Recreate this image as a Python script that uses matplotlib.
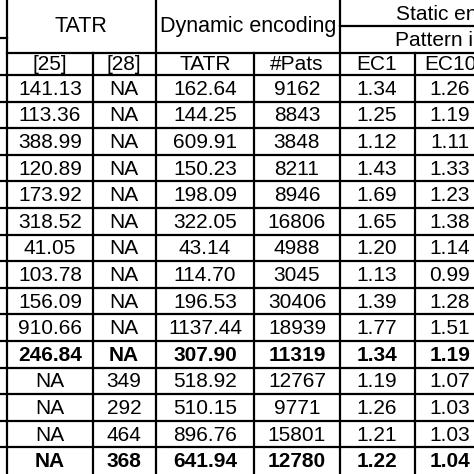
import matplotlib
matplotlib.use("Agg")
import matplotlib.pyplot as plt

sub_headers = ["[25]", "[28]", "TATR", "#Pats", "EC1", "EC10"]
col_25 = ["141.13","113.36","388.99","120.89","173.92","318.52","41.05","103.78","156.09","910.66","246.84","NA","NA","NA","NA"]
col_28 = ["NA"]*11 + ["349","292","464","368"]
col_tatr = ["162.64","144.25","609.91","150.23","198.09","322.05","43.14","114.70","196.53","1137.44","307.90","518.92","510.15","896.76","641.94"]
col_pats = ["9162","8843","3848","8211","8946","16806","4988","3045","30406","18939","11319","12767","9771","15801","12780"]
col_ec1 = ["1.34","1.25","1.12","1.43","1.69","1.65","1.20","1.13","1.39","1.77","1.34","1.19","1.26","1.21","1.22"]
col_ec10 = ["1.26","1.19","1.11","1.33","1.23","1.38","1.14","0.99","1.28","1.51","1.19","1.07","1.03","1.03","1.04"]
bold_rows = [10, 14]

plt.rcParams['font.family'] = ['Liberation Sans', 'DejaVu Sans']
fig = plt.figure(figsize=(4.74, 4.74), dpi=100)
ax = fig.add_axes([0, 0, 1, 1])
ax.set_xlim(0, 474); ax.set_ylim(474, 0); ax.axis('off')

lw = 1.6
top_data = 75.0
rh = 26.6
n = len(col_25)
for x, y0 in [(7, 0), (93, 53), (156, 0), (254, 53), (340, 0), (415, 53)]:
    ax.plot([x, x], [y0, 474], color='black', lw=lw)
ax.plot([7, 474], [53, 53], color='black', lw=lw)
ax.plot([340, 474], [26, 26], color='black', lw=lw)
ax.plot([0, 7], [38, 38], color='black', lw=lw)
for k in range(n):
    y = top_data + k * rh
    ax.plot([0, 474], [y, y], color='black', lw=lw)

fs = 15
ax.text(81, 26, "TATR", ha='center', va='center', fontsize=fs + 0.5)
ax.text(248, 26, "Dynamic encoding", ha='center', va='center', fontsize=fs + 0.5)
ax.text(396, 14, "Static encoding", ha='left', va='center', fontsize=fs, clip_on=True)
ax.text(395, 40, "Pattern information", ha='left', va='center', fontsize=fs, clip_on=True)

centers = [50, 124, 205, 297, 377, 450]
for c, h in zip(centers, sub_headers):
    ax.text(c, 64, h, ha='center', va='center', fontsize=fs, clip_on=True)
cols = [col_25, col_28, col_tatr, col_pats, col_ec1, col_ec10]
for i in range(n):
    y = top_data + (i + 0.5) * rh + 1
    for c, col in zip(centers, cols):
        ax.text(c, y, col[i], ha='center', va='center', fontsize=fs,
                fontweight='bold' if i in bold_rows else 'normal', clip_on=True)
fig.savefig("out.png", dpi=100)
